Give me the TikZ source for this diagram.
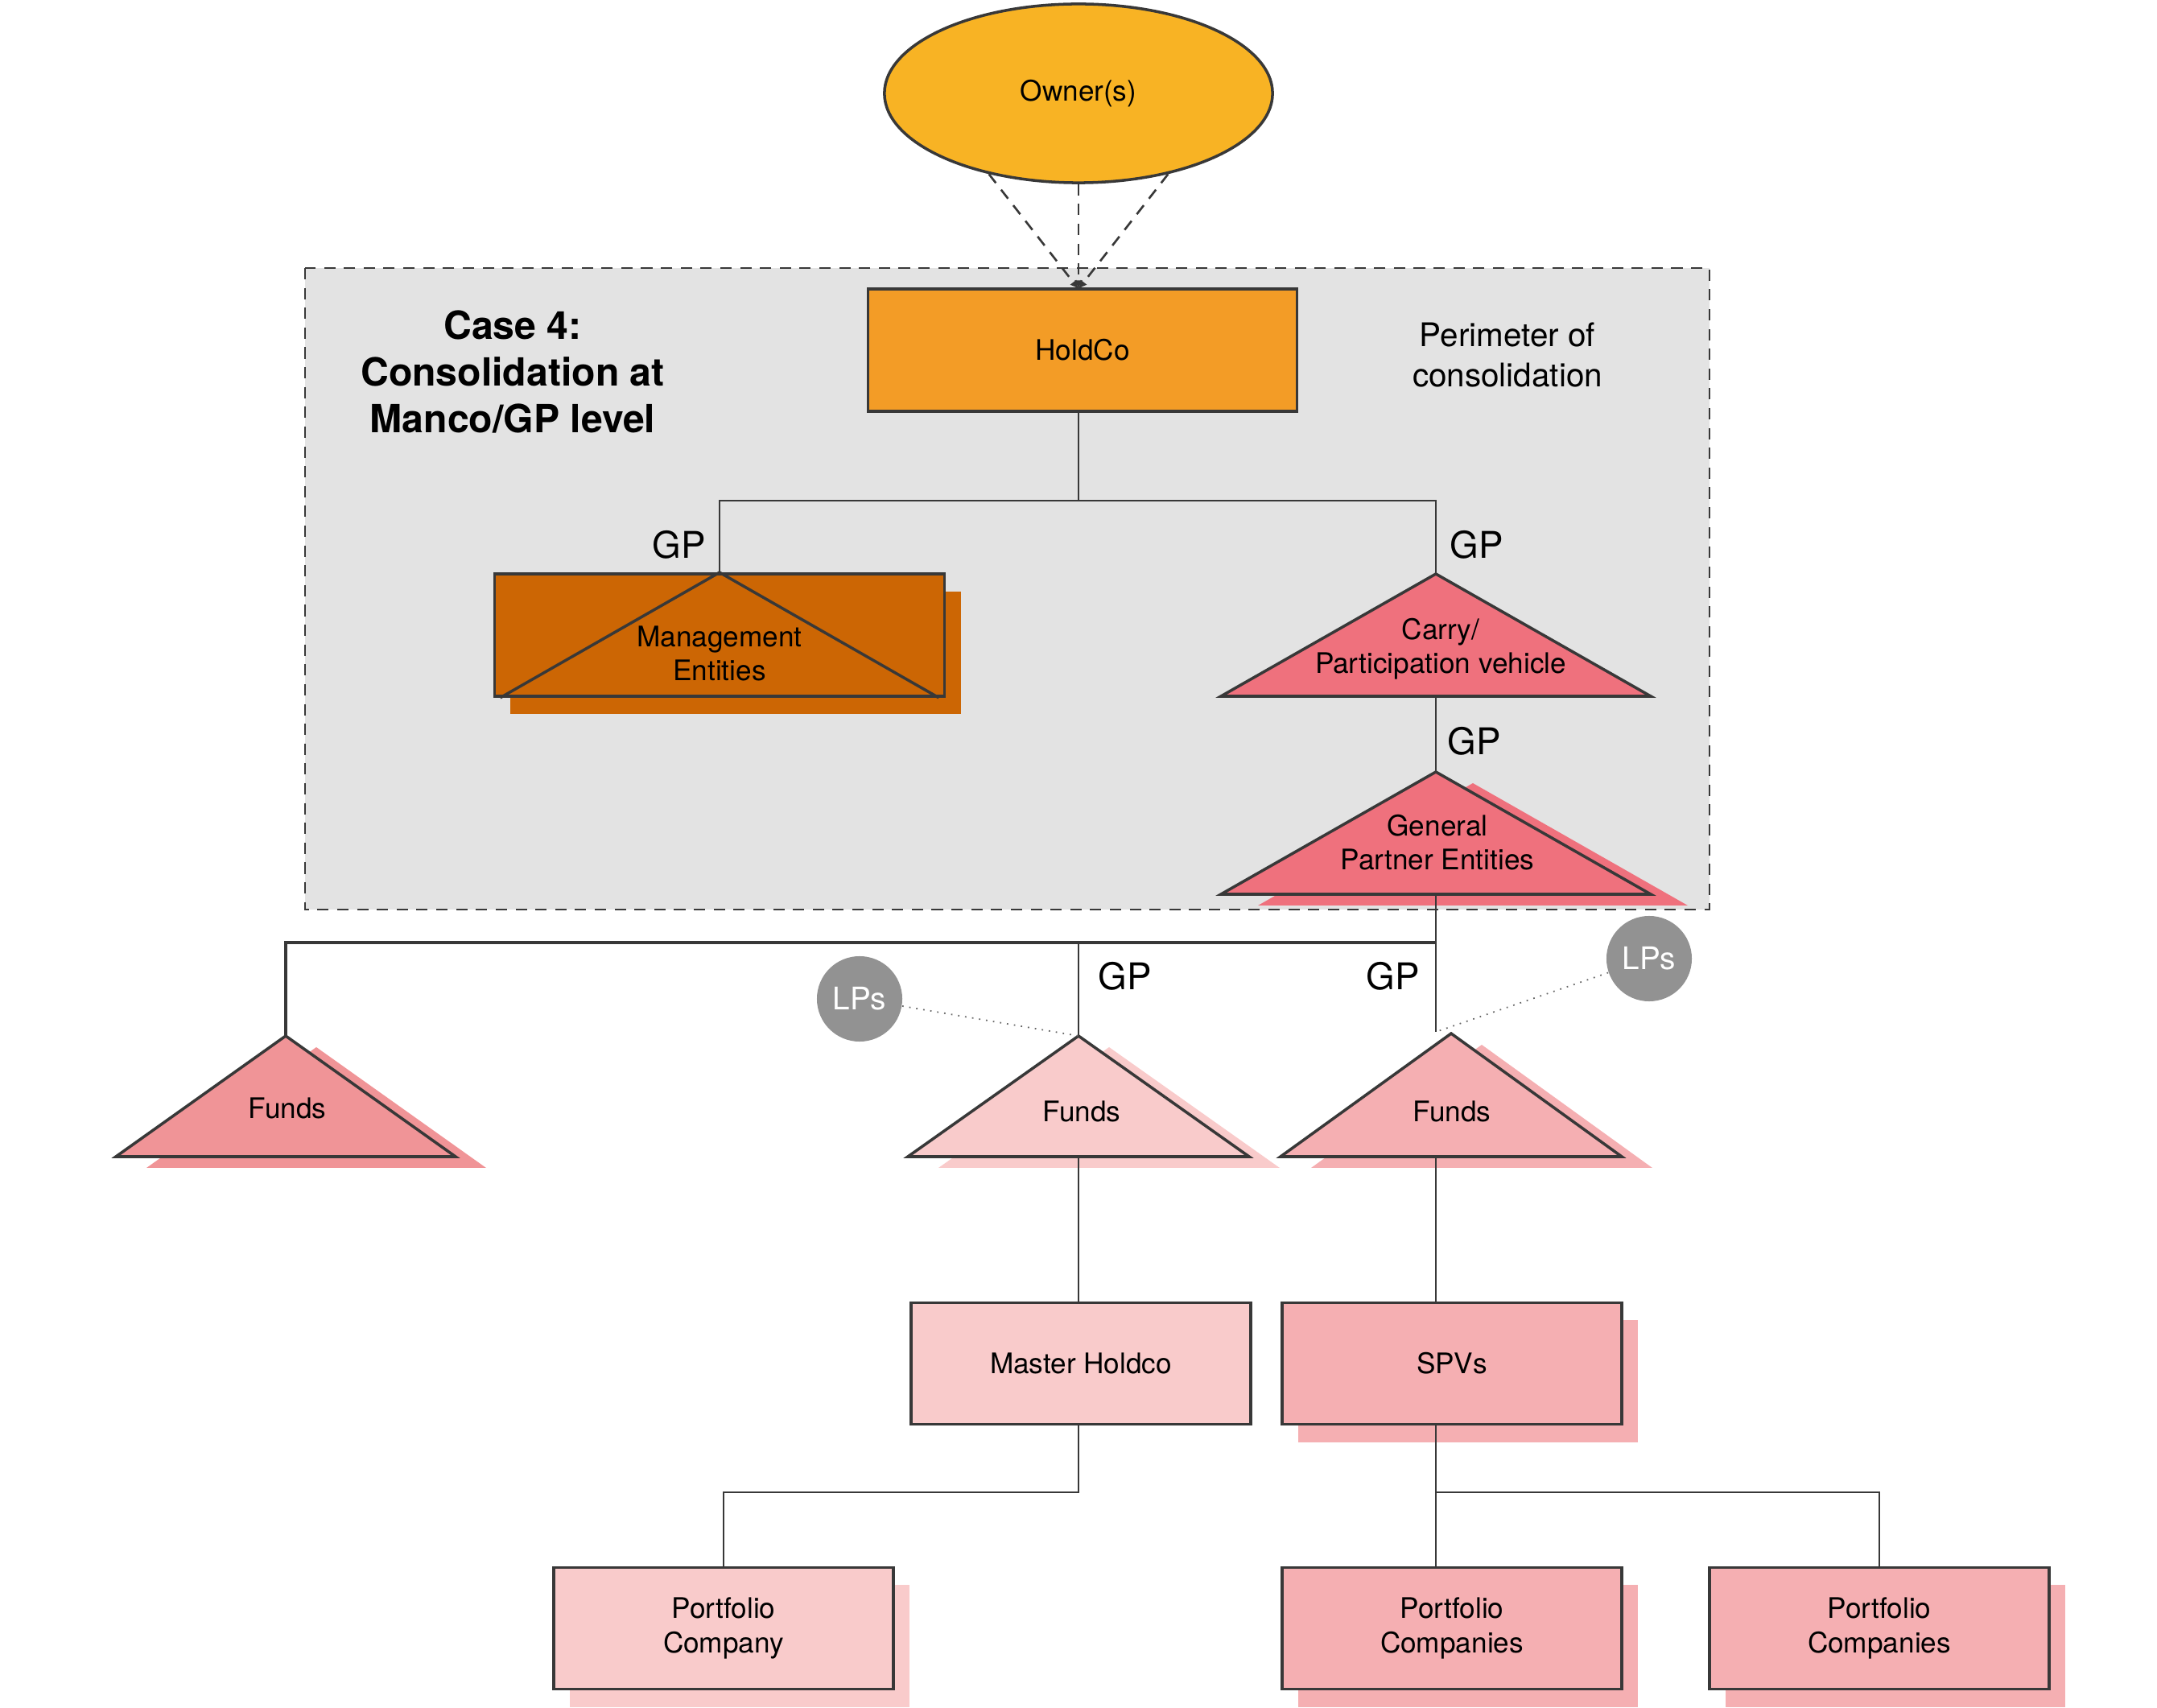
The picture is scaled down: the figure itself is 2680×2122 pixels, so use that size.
\documentclass[tikz,border=0pt]{standalone}
\usepackage{fontspec}
\setmainfont{TeX Gyre Heros}
\usetikzlibrary{shapes.geometric,shadows,arrows.meta}

\definecolor{linec}{HTML}{383838}
\definecolor{ownerc}{HTML}{F8B324}
\definecolor{holdc}{HTML}{F39C26}
\definecolor{mgmtc}{HTML}{CC6604}
\definecolor{carryc}{HTML}{EF717D}
\definecolor{fundsA}{HTML}{F09497}
\definecolor{fundsB}{HTML}{F9CBCB}
\definecolor{fundsC}{HTML}{F5AFB2}
\definecolor{perimc}{HTML}{E3E3E3}
\definecolor{lpsc}{HTML}{929292}

\begin{document}
\begin{tikzpicture}[x=0.01cm,y=-0.01cm,
    line/.style={draw=linec, line width=0.75pt},
    tri/.style={draw=linec, line width=1pt, line join=miter},
    txt/.style={align=center, font=\fontsize{10}{12}\selectfont},
    box/.style={draw=linec, line width=1pt, inner sep=0pt, minimum width=4.22cm,
      minimum height=1.51cm, align=center, font=\fontsize{10}{12}\selectfont},
    boxshadow/.style={drop shadow={shadow xshift=0.2cm, shadow yshift=-0.22cm,
      fill=#1, opacity=1}},
    gp/.style={font=\fontsize{13}{15}\selectfont},
    lps/.style={circle, fill=lpsc, minimum size=1.06cm, inner sep=0pt, text=white,
      font=\fontsize{11}{13}\selectfont}]
  \useasboundingbox (0,0) rectangle (2680,2122);
  \fill[white] (0,0) rectangle (2680,2122);

  % perimeter of consolidation
  \draw[draw=linec, line width=0.8pt, dash pattern=on 4pt off 3pt, fill=perimc] (379,333) rectangle (2124,1130);
  \node[font=\fontsize{13.7}{16.5}\selectfont\bfseries, align=center] (case) at (637,462) {Case 4:\\Consolidation at\\Manco/GP level};
  \node[font=\fontsize{11.5}{14}\selectfont, align=center] (perim) at (1873,441) {Perimeter of\\consolidation};

  % owner and holdco
  \node[ellipse, draw=linec, line width=1pt, fill=ownerc, minimum width=4.82cm, minimum height=2.22cm, inner sep=0pt, txt] (owner) at (1340,116) {Owner(s)};
  \node[box, fill=holdc, minimum width=5.33cm, minimum height=1.52cm] (holdco) at (1345,435) {HoldCo};
  \coordinate (holdco-in) at (1340,359);
  \coordinate (holdco-out) at (1340,511);
  \foreach \a in {222,270,318}
    \draw[line, dash pattern=on 4pt off 3pt, -{Latex[length=3pt,width=3pt]}] (owner.\a) -- (holdco-in);

  % management entities
  \node[box, fill=mgmtc, boxshadow=mgmtc, minimum width=5.59cm, minimum height=1.52cm] (mgmt) at (894,789) {};
  \draw[tri] ([xshift=0.09cm]mgmt.south west) -- (mgmt.north) -- ([xshift=-0.09cm]mgmt.south east);
  \node[txt] (mgmt-lbl) at (894,812) {Management\\Entities};

  % carry vehicle
  \coordinate (carry-top) at (1784,713);
  \coordinate (carry-bot) at (1784,865);
  \draw[tri, fill=carryc] (carry-top) -- (2051,865) -- (1517,865) -- cycle;
  \node[txt] (carry) at (1790,806) {Carry/\\Participation vehicle};

  % general partner entities
  \coordinate (gpe-top) at (1784,959);
  \coordinate (gpe-bot) at (1784,1111);
  \fill[carryc] (1830,973) -- (2097,1125) -- (1563,1125) -- cycle;
  \draw[tri, fill=carryc] (gpe-top) -- (2051,1111) -- (1517,1111) -- cycle;
  \node[txt] (gpe) at (1786,1047) {General\\Partner Entities};

  \coordinate (bus1) at (1340,622);
  \draw[line] (holdco-out) -- (bus1) -| (mgmt.north);
  \draw[line] (bus1) -| (carry-top);
  \draw[line] (carry-bot) -- (gpe-top);
  \node[gp] (gp1) at (844,677) {GP};
  \node[gp] (gp2) at (1835,677) {GP};
  \node[gp] (gp3) at (1832,921) {GP};

  % funds
  \coordinate (fundsL-top) at (355,1287);
  \coordinate (fundsM-top) at (1340,1287);
  \coordinate (fundsM-bot) at (1340,1437);
  \coordinate (fundsR-top) at (1803,1284);
  \coordinate (fundsR-gp) at (1784,1282);
  \coordinate (fundsR-bot) at (1784,1437);
  \fill[fundsA] (393,1301) -- (604,1451) -- (182,1451) -- cycle;
  \draw[tri, fill=fundsA] (fundsL-top) -- (566,1437) -- (144,1437) -- cycle;
  \node[txt] (fundsL) at (357,1377) {Funds};
  \fill[fundsB] (1378,1301) -- (1590,1451) -- (1166,1451) -- cycle;
  \draw[tri, fill=fundsB] (fundsM-top) -- (1552,1437) -- (1128,1437) -- cycle;
  \node[txt] (fundsM) at (1344,1381) {Funds};
  \fill[fundsC] (1841,1298) -- (2053,1451) -- (1629,1451) -- cycle;
  \draw[tri, fill=fundsC] (fundsR-top) -- (2015,1437) -- (1591,1437) -- cycle;
  \node[txt] (fundsR) at (1804,1381) {Funds};

  \coordinate (bus2) at (1784,1171);
  \draw[line] (gpe-bot) -- (fundsR-gp);
  \draw[line, line width=1.1pt] (bus2) -| (fundsL-top);
  \draw[line] (fundsM-top) -- (fundsM-top |- bus2);
  \node[gp] (gp4) at (1398,1213) {GP};
  \node[gp] (gp5) at (1731,1213) {GP};

  % limited partners
  \node[lps] (lpsL) at (1068,1241) {LPs};
  \node[lps] (lpsR) at (2049,1191) {LPs};
  \draw[dotted, draw=gray!80!black, line width=0.5pt] (lpsL) -- (fundsM-top);
  \draw[dotted, draw=gray!80!black, line width=0.5pt] (lpsR) -- (fundsR-gp);

  % holding structures
  \node[box, fill=fundsB] (master) at (1343,1694) {Master Holdco};
  \node[box, fill=fundsB, boxshadow=fundsB] (pcomp) at (899,2023) {Portfolio\\Company};
  \node[box, fill=fundsC, boxshadow=fundsC] (spv) at (1804,1694) {SPVs};
  \node[box, fill=fundsC, boxshadow=fundsC] (pc1) at (1804,2023) {Portfolio\\Companies};
  \node[box, fill=fundsC, boxshadow=fundsC] (pc2) at (2335,2023) {Portfolio\\Companies};

  \coordinate (bus3) at (1340,1854);
  \coordinate (bus4) at (1784,1854);
  \draw[line] (fundsM-bot) -- (fundsM-bot |- master.north);
  \draw[line] (bus3 |- master.south) -- (bus3) -| (pcomp.north);
  \draw[line] (fundsR-bot) -- (fundsR-bot |- spv.north);
  \draw[line] (bus4 |- spv.south) -- (bus4) -- (bus4 |- pc1.north);
  \draw[line] (bus4) -| (pc2.north);
\end{tikzpicture}
\end{document}
